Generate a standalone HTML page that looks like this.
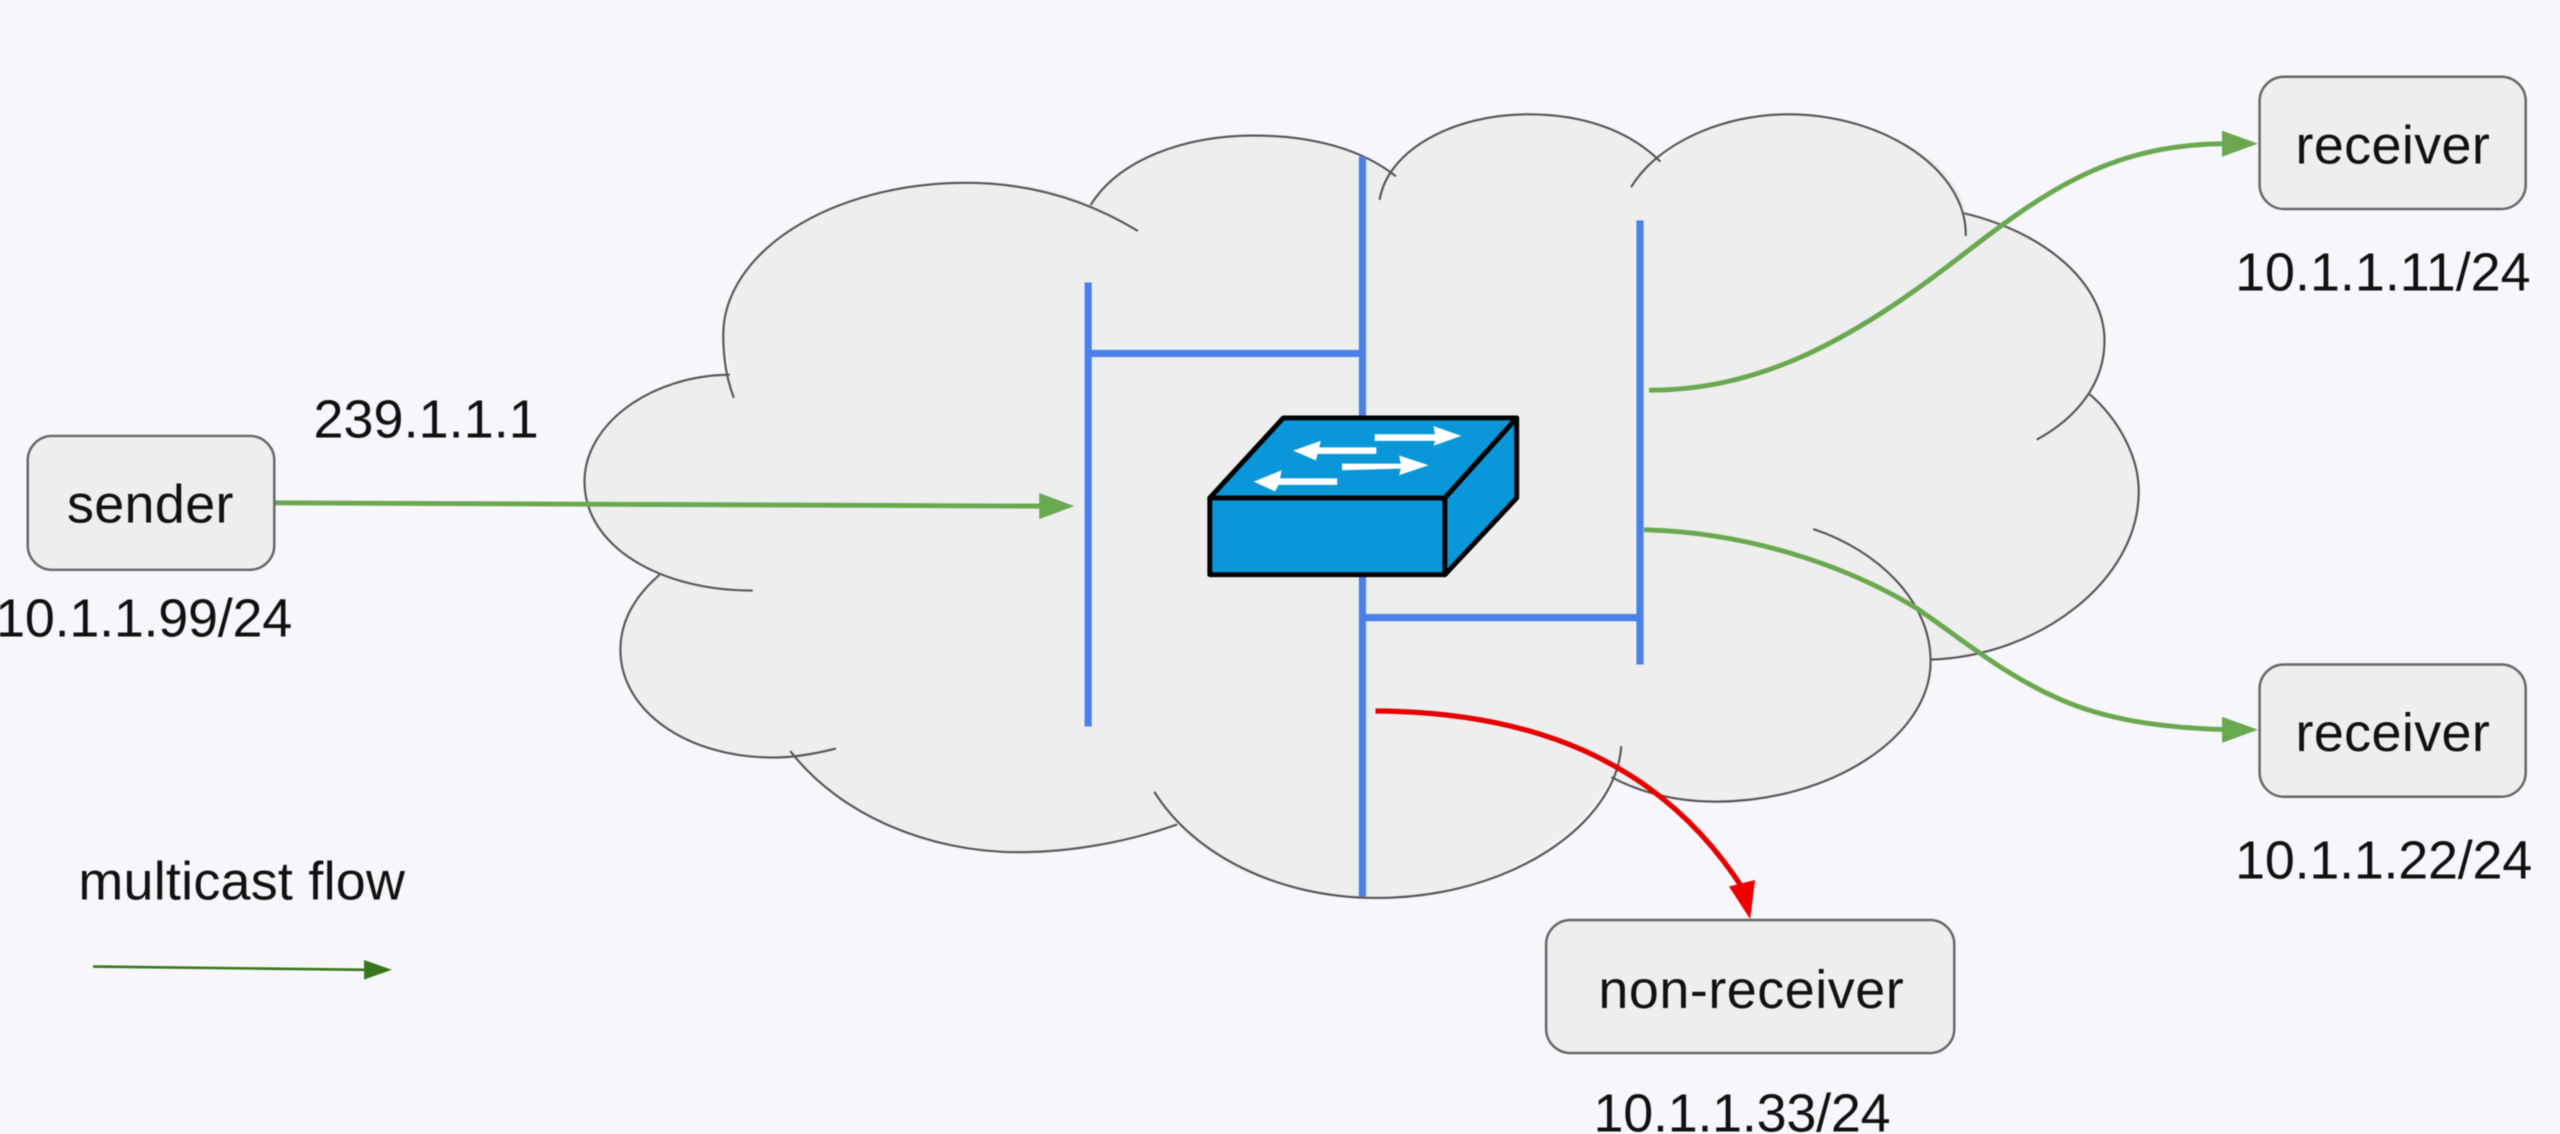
<!DOCTYPE html>
<html><head><meta charset="utf-8"><style>
html,body{margin:0;padding:0;background:#f6f6fb;width:2560px;height:1134px;overflow:hidden}
svg{display:block;filter:blur(0.6px)}
text{font-family:"Liberation Sans",sans-serif;font-size:33px;fill:#111}
</style></head><body>
<svg width="2560" height="1134" viewBox="0 0 1568 694.575" xmlns="http://www.w3.org/2000/svg">
<rect width="1568" height="695" fill="#f6f6fb"/>
<!-- cloud fill -->
<path fill="#eeeeee" d="M447 229.5L443 205C443 155 508 112 592 112C630 112 650 116 668 125.6C685 98 725 83 768 83C805 83 835 92 852 106C858 92 890 70 936 70C970 70 998 80 1017 99C1035 80 1060 70 1095 70C1155 70 1205 105 1203 130.6C1255 143 1289 175 1289 208.6C1289 220 1285 232 1279.4 241C1298 257 1310 280 1310 301C1310 355 1250 402 1182 404L1182.5 405C1182.5 452 1120 491 1051 491C1028 491 1006 486 987 476C965 520 905 550 843 550C785 550 745 530 721 505C690 516 655 522 624 522C570 522 515 500 487 463C482 464 478 464 474 464C420 464 380 435 380 398C380 380 389 365 404 352C375 340 358 320 358 295C358 260 398 230 447 229.5Z"/>
<!-- cloud arcs -->
<g fill="none" stroke="#555" stroke-width="1.3">
<path d="M449.5 243.7C445 232 443 218 443 205C443 155 508 112 592 112C635 112 670 125 697 141.5"/>
<path d="M668 125.6C685 98 725 83 768 83C805 83 835 92 855 108"/>
<path d="M845 122.4C850 92 890 70 936 70C970 70 998 80 1017 99"/>
<path d="M999 114.7C1015 88 1055 70 1095 70C1155 70 1205 105 1204 144.5"/>
<path d="M1203 130.6C1255 143 1289 175 1289 208.6C1289 235 1272 256 1247.5 269.3"/>
<path d="M1279.4 241C1298 257 1310 280 1310 301C1310 355 1250 402 1182 404"/>
<path d="M1110.6 324C1150 337 1182.5 368 1182.5 405C1182.5 452 1120 491 1051 491C1028 491 1006 486 987 476"/>
<path d="M993 457C990 505 925 550 843 550C785 550 732 525 707 485"/>
<path d="M721 505C690 516 655 522 624 522C570 522 515 500 484 460"/>
<path d="M512 458.5C498 462 486 464 474 464C420 464 380 435 380 398C380 380 389 365 404 352"/>
<path d="M461 361.7C405 362 358 335 358 295C358 260 398 230 447 229.5"/>
</g>
<!-- blue lines -->
<g stroke="#4a80ea" stroke-width="4.4" fill="none">
<path d="M666.5 173V445"/><path d="M834.5 96V549"/><path d="M1004.5 135V407"/>
<path d="M666 216.5H834"/><path d="M834 378.3H1004"/>
</g>
<!-- switch -->
<g stroke="#000" stroke-width="3" stroke-linejoin="round" fill="#0a97d9">
<path d="M741 305H885V352H741Z"/>
<path d="M741 305L786 256H929L885 305Z"/>
<path d="M885 305L929 256V305L885 352Z"/>
</g>
<g fill="#fff">
<path d="M842 266L879 266L878 261L895 267L878 273L879 270L842 270Z"/>
<path d="M843 274L808 274L809 270L792 276L806 282L807 278L843 278Z"/>
<path d="M822 284L858 284L857 279L875 285L857 291L858 287L822 288Z"/>
<path d="M819 293L784 293L785 288L768 295L781 301L783 297L819 297Z"/>
</g>
<!-- green connectors -->
<g fill="none" stroke="#6aa84f" stroke-width="3">
<path d="M168 308L640 310"/>
<path d="M1010 239C1075 239 1130 212 1201 157C1255 115 1295 88 1365 88"/>
<path d="M1007 324.5C1070 326 1130 346 1173 372C1200 390 1225 412 1261 428C1290 441 1325 446 1366 447"/>
</g>
<g fill="#6aa84f">
<path d="M658 310L636.5 302V318Z"/>
<path d="M1383 88L1361 80V96Z"/>
<path d="M1383 447L1361 439V455Z"/>
</g>
<!-- red -->
<path fill="none" stroke="#e60000" stroke-width="3.2" d="M842.5 435.5C945 436 1020 470 1068 545"/>
<path fill="#ee0000" d="M1072 563L1059 543L1075 539Z"/>
<!-- legend -->
<path fill="none" stroke="#38761d" stroke-width="1.6" d="M57 592L224 594"/>
<path fill="#38761d" d="M240 594L223 588V600Z"/>
<!-- boxes -->
<g fill="#eeeeee" stroke="#666" stroke-width="1.5">
<rect x="17" y="267" width="151" height="82" rx="15"/>
<rect x="1384" y="47" width="163" height="81" rx="15"/>
<rect x="1384" y="407" width="163" height="81" rx="15"/>
<rect x="947" y="563.5" width="250" height="81.5" rx="15"/>
</g>
<!-- text -->
<text x="41" y="320" textLength="102">sender</text>
<text x="1406" y="100" textLength="119">receiver</text>
<text x="1406" y="460" textLength="119">receiver</text>
<text x="979" y="617.5" textLength="187">non-receiver</text>
<text x="192" y="268" textLength="138">239.1.1.1</text>
<text x="-3" y="390" textLength="182">10.1.1.99/24</text>
<text x="1369" y="178" textLength="181">10.1.1.11/24</text>
<text x="1369" y="538" textLength="182">10.1.1.22/24</text>
<text x="976" y="693" textLength="182">10.1.1.33/24</text>
<text x="48" y="551" textLength="200">multicast flow</text>
</svg>
</body></html>
